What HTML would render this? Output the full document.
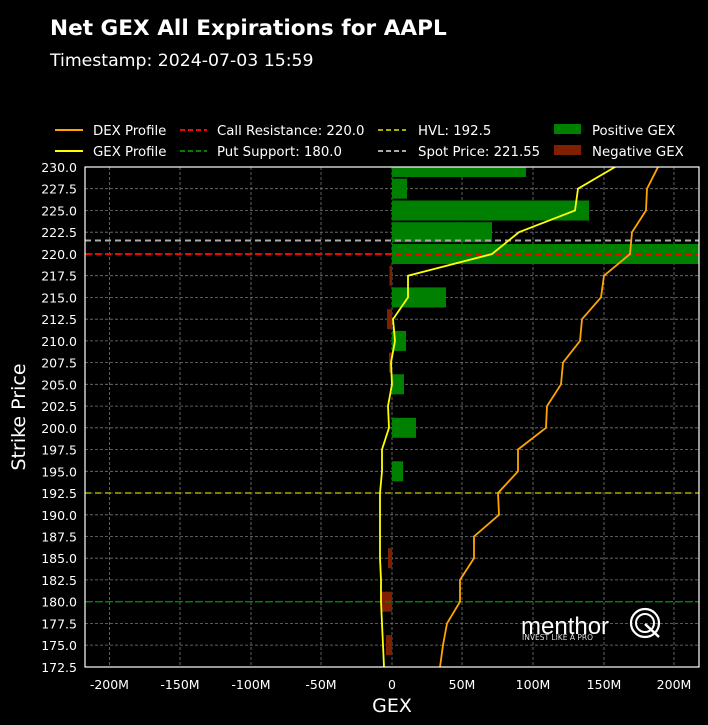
<!DOCTYPE html>
<html><head><meta charset="utf-8"><style>
body{margin:0;background:#000;width:708px;height:725px;overflow:hidden}
svg{display:block;font-family:"DejaVu Sans","Liberation Sans",sans-serif}
</style></head><body>
<svg width="708" height="725" viewBox="0 0 708 725">
<rect width="708" height="725" fill="#000"/>
<text x="50" y="35" fill="#fff" font-size="21.6" font-weight="bold">Net GEX All Expirations for AAPL</text>
<text x="50" y="66" fill="#fff" font-size="17.3">Timestamp: 2024-07-03 15:59</text>
<g font-size="13.3" fill="#fff">
<line x1="55" y1="130" x2="83" y2="130" stroke="#ffa500" stroke-width="2"/><text x="93" y="135">DEX Profile</text>
<line x1="55" y1="151" x2="83" y2="151" stroke="#ffff00" stroke-width="2"/><text x="93" y="156">GEX Profile</text>
<line x1="180" y1="130" x2="207" y2="130" stroke="#ff0000" stroke-width="2" stroke-dasharray="5,3"/><text x="217" y="135">Call Resistance: 220.0</text>
<line x1="180" y1="151" x2="207" y2="151" stroke="#008000" stroke-width="2" stroke-dasharray="5,3"/><text x="217" y="156">Put Support: 180.0</text>
<line x1="378" y1="130" x2="406" y2="130" stroke="#aaaa00" stroke-width="2" stroke-dasharray="5,3"/><text x="418" y="135">HVL: 192.5</text>
<line x1="378" y1="151" x2="406" y2="151" stroke="#aaaaaa" stroke-width="2" stroke-dasharray="5,3"/><text x="418" y="156">Spot Price: 221.55</text>
<rect x="554" y="124" width="27" height="10" fill="#008000"/><text x="592" y="135">Positive GEX</text>
<rect x="554" y="145" width="27" height="10" fill="#802000"/><text x="592" y="156">Negative GEX</text>
</g>
<defs><clipPath id="c"><rect x="85" y="167" width="614" height="500"/></clipPath></defs>
<g stroke="#777" stroke-width="0.8" stroke-dasharray="3,2">
<line x1="109.4" y1="167" x2="109.4" y2="667"/><line x1="180" y1="167" x2="180" y2="667"/><line x1="251" y1="167" x2="251" y2="667"/><line x1="321" y1="167" x2="321" y2="667"/><line x1="392" y1="167" x2="392" y2="667"/><line x1="462" y1="167" x2="462" y2="667"/><line x1="533" y1="167" x2="533" y2="667"/><line x1="604" y1="167" x2="604" y2="667"/><line x1="674" y1="167" x2="674" y2="667"/>
<line x1="85" x2="699" y1="188.7" y2="188.7"/><line x1="85" x2="699" y1="210.5" y2="210.5"/><line x1="85" x2="699" y1="232.2" y2="232.2"/><line x1="85" x2="699" y1="254" y2="254"/><line x1="85" x2="699" y1="275.7" y2="275.7"/><line x1="85" x2="699" y1="297.4" y2="297.4"/><line x1="85" x2="699" y1="319.2" y2="319.2"/><line x1="85" x2="699" y1="340.9" y2="340.9"/><line x1="85" x2="699" y1="362.6" y2="362.6"/><line x1="85" x2="699" y1="384.3" y2="384.3"/><line x1="85" x2="699" y1="406.1" y2="406.1"/><line x1="85" x2="699" y1="427.8" y2="427.8"/><line x1="85" x2="699" y1="449.5" y2="449.5"/><line x1="85" x2="699" y1="471.3" y2="471.3"/><line x1="85" x2="699" y1="493" y2="493"/><line x1="85" x2="699" y1="514.8" y2="514.8"/><line x1="85" x2="699" y1="536.5" y2="536.5"/><line x1="85" x2="699" y1="558.2" y2="558.2"/><line x1="85" x2="699" y1="579.9" y2="579.9"/><line x1="85" x2="699" y1="601.7" y2="601.7"/><line x1="85" x2="699" y1="623.4" y2="623.4"/><line x1="85" x2="699" y1="645.1" y2="645.1"/>
</g>
<g clip-path="url(#c)">
<g fill="#008000">
<rect x="392" y="157" width="134" height="20"/>
<rect x="392" y="178.7" width="15" height="20"/>
<rect x="392" y="200.5" width="197" height="20"/>
<rect x="392" y="222.2" width="100" height="20"/>
<rect x="392" y="244" width="310" height="20"/>
<rect x="392" y="287.4" width="54" height="20"/>
<rect x="392" y="330.9" width="14" height="20"/>
<rect x="392" y="374.3" width="12" height="20"/>
<rect x="392" y="417.8" width="24" height="20"/>
<rect x="392" y="461.3" width="11" height="20"/>
</g>
<g fill="#802000">
<rect x="389.5" y="265.7" width="2.5" height="20"/>
<rect x="387" y="309.2" width="5" height="20"/>
<rect x="389" y="352.6" width="3" height="20"/>
<rect x="388" y="548.2" width="4" height="20"/>
<rect x="381" y="591.7" width="11" height="20"/>
<rect x="386" y="635.1" width="6" height="20"/>
</g>
<line x1="85" x2="699" y1="493" y2="493" stroke="#aaaa00" stroke-width="1.5" stroke-dasharray="6,4"/>
<line x1="85" x2="699" y1="601.7" y2="601.7" stroke="#008000" stroke-width="1.5" stroke-dasharray="6,4"/>
<line x1="85" x2="699" y1="240.5" y2="240.5" stroke="#aaaaaa" stroke-width="2" stroke-dasharray="6,4"/>
<line x1="85" x2="699" y1="254" y2="254" stroke="#ff0000" stroke-width="2" stroke-dasharray="6,4"/>
<polyline fill="none" stroke="#ffa500" stroke-width="1.8" points="664,145 658,167 647,188.7 646,210.5 632,232.2 630,254 604,275.7 601,297.4 582,319.2 580,340.9 563,362.6 561,384.3 547,406.1 546,427.8 518,449.5 518,471.3 498,493 499,514.8 474,536.5 474,558.2 460,579.9 460,601.7 447,623.4 443,645.1 440,667"/>
<polyline fill="none" stroke="#ffff00" stroke-width="1.8" points="660,145 615,167 578,188.7 575,210.5 519,232.2 492,254 408,275.7 408,297.4 393,319.2 395,340.9 391,362.6 392,384.3 388,406.1 389,427.8 382,449.5 382,471.3 380,493 380,514.8 380,536.5 380,558.2 381,579.9 381,601.7 382,623.4 383,645.1 384,667"/>
</g>
<rect x="85" y="167" width="614" height="500" fill="none" stroke="#fff" stroke-width="1.2"/>
<g fill="#fff" font-size="12.5" text-anchor="end">
<text x="77" y="172">230.0</text><text x="77" y="193.7">227.5</text><text x="77" y="215.5">225.0</text><text x="77" y="237.2">222.5</text><text x="77" y="259">220.0</text><text x="77" y="280.7">217.5</text><text x="77" y="302.4">215.0</text><text x="77" y="324.2">212.5</text><text x="77" y="345.9">210.0</text><text x="77" y="367.6">207.5</text><text x="77" y="389.3">205.0</text><text x="77" y="411.1">202.5</text><text x="77" y="432.8">200.0</text><text x="77" y="454.5">197.5</text><text x="77" y="476.3">195.0</text><text x="77" y="498">192.5</text><text x="77" y="519.8">190.0</text><text x="77" y="541.5">187.5</text><text x="77" y="563.2">185.0</text><text x="77" y="584.9">182.5</text><text x="77" y="606.7">180.0</text><text x="77" y="628.4">177.5</text><text x="77" y="650.1">175.0</text><text x="77" y="672">172.5</text>
</g>
<g fill="#fff" font-size="12.5" text-anchor="middle">
<text x="109.4" y="689">-200M</text><text x="180" y="689">-150M</text><text x="251" y="689">-100M</text><text x="321" y="689">-50M</text><text x="392" y="689">0</text><text x="462" y="689">50M</text><text x="533" y="689">100M</text><text x="604" y="689">150M</text><text x="674" y="689">200M</text>
</g>
<text x="392" y="712" fill="#fff" font-size="19" text-anchor="middle">GEX</text>
<text transform="translate(25,417) rotate(-90)" fill="#fff" font-size="19" text-anchor="middle">Strike Price</text>
<text x="521" y="634" fill="#fff" font-size="24" font-family="Liberation Sans,sans-serif">menthor</text>
<text x="522" y="640" fill="#ddd" font-size="7.5">INVEST LIKE A PRO</text>
<circle cx="645" cy="623" r="14" fill="none" stroke="#fff" stroke-width="2.2"/>
<circle cx="645" cy="623" r="9" fill="none" stroke="#fff" stroke-width="2"/>
<line x1="645" y1="624" x2="659" y2="637" stroke="#fff" stroke-width="2.5"/>
</svg>
</body></html>
